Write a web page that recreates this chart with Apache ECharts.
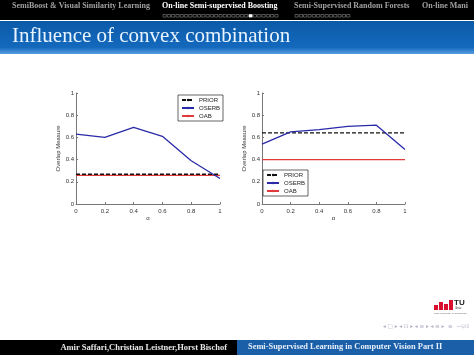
<!DOCTYPE html>
<html><head><meta charset="utf-8">
<script src="https://cdn.jsdelivr.net/npm/echarts@6/dist/echarts.min.js"></script>
<style>html,body{margin:0;padding:0;background:#fff}#c{width:474px;height:355px}</style>
</head><body><div id="c"></div>
<script>
// Data
const alphas = [0, 0.2, 0.4, 0.6, 0.8, 1];
const leftOSERB = [0.63, 0.60, 0.69, 0.61, 0.39, 0.23];
const leftPRIOR = [0.268, 0.268, 0.268, 0.268, 0.268, 0.268];
const leftOAB = [0.258, 0.258, 0.258, 0.258, 0.258, 0.258];
const rightOSERB = [0.54, 0.65, 0.67, 0.70, 0.71, 0.49];
const rightPRIOR = [0.64, 0.64, 0.64, 0.64, 0.64, 0.64];
const rightOAB = [0.40, 0.40, 0.40, 0.40, 0.40, 0.40];
const xTicks = ['0', '0.2', '0.4', '0.6', '0.8', '1'];
const yTicks = ['0', '0.2', '0.4', '0.6', '0.8', '1'];
const navItems = ['SemiBoost & Visual Similarity Learning', 'On-line Semi-supervised Boosting', 'Semi-Supervised Random Forests', 'On-line Mani'];
const title = 'Influence of convex combination';
const footLeft = 'Amir Saffari,Christian Leistner,Horst Bischof';
const footRight = 'Semi-Supervised Learning in Computer Vision Part II';

const chart = echarts.init(document.getElementById('c'), null, {renderer: 'canvas'});
const zip = (xs, ys) => xs.map((x, i) => [x, ys[i]]);
const tickFont = {fontSize: 6, color: '#333', fontFamily: 'Liberation Sans'};
function xAxis(gi) {
  return {type: 'value', gridIndex: gi, min: 0, max: 1, interval: 0.2,
    name: 'α', nameLocation: 'middle', nameGap: 11, nameTextStyle: {fontSize: 6, color: '#333'},
    axisLine: {lineStyle: {color: '#777', width: 1}}, axisTick: {inside: true, length: 2, lineStyle: {color: '#777'}},
    axisLabel: Object.assign({margin: 4, formatter: v => xTicks[Math.round(v * 5)]}, tickFont), splitLine: {show: false}};
}
function yAxis(gi) {
  return {type: 'value', gridIndex: gi, min: 0, max: 1, interval: 0.2,
    name: 'Overlap Measure', nameLocation: 'middle', nameGap: 11, nameRotate: 90, nameTextStyle: {fontSize: 6, color: '#333'},
    axisLine: {show: true, lineStyle: {color: '#777', width: 1}}, axisTick: {show: true, inside: true, length: 2, lineStyle: {color: '#777'}},
    axisLabel: Object.assign({margin: 2, formatter: v => yTicks[Math.round(v * 5)]}, tickFont), splitLine: {show: false}};
}
function line(name, gi, data, color, type, z) {
  return {name, type: 'line', xAxisIndex: gi, yAxisIndex: gi, data, symbol: 'none', silent: true, z: z,
    lineStyle: {color, width: 1.3, type}, itemStyle: {color}};
}
const legendBase = {orient: 'vertical', itemWidth: 12, itemHeight: 3, itemGap: 2, padding: [2, 3, 2, 3],
  borderColor: '#222', borderWidth: 0.7, backgroundColor: '#fff',
  textStyle: {fontSize: 6, color: '#222', fontFamily: 'Liberation Sans'}, data: ['PRIOR', 'OSERB', 'OAB'], selectedMode: false};

// nav box strips
const navG = [];
function strip(x, n, activeIdx) {
  for (let i = 0; i < n; i++) {
    navG.push({type: 'rect', shape: {x: x + i * 4.3, y: 14.5, width: 3.2, height: 2.6},
      style: {fill: i === activeIdx ? '#fff' : 'none', stroke: i === activeIdx ? '#fff' : '#888', lineWidth: 0.6}});
  }
}
strip(163, 27, 20);
strip(295, 13, -1);

chart.setOption({
  animation: false,
  backgroundColor: '#fff',
  grid: [
    {left: 76, top: 93, width: 144, height: 111},
    {left: 262, top: 93, width: 143, height: 111}
  ],
  xAxis: [xAxis(0), xAxis(1)],
  yAxis: [yAxis(0), yAxis(1)],
  legend: [
    Object.assign({left: 178, top: 95}, legendBase),
    Object.assign({left: 263, top: 170}, legendBase)
  ],
  series: [
    line('OAB', 0, zip(alphas, leftOAB), '#e03a3a', 'solid', 2),
    line('PRIOR', 0, zip(alphas, leftPRIOR), '#111', [4, 2], 3),
    line('OSERB', 0, zip(alphas, leftOSERB), '#2a2aa8', 'solid', 4),
    line('OAB', 1, zip(alphas, rightOAB), '#e03a3a', 'solid', 2),
    line('PRIOR', 1, zip(alphas, rightPRIOR), '#111', [4, 2], 3),
    line('OSERB', 1, zip(alphas, rightOSERB), '#2a2aa8', 'solid', 4)
  ],
  graphic: [
    {type: 'rect', shape: {x: 0, y: 0, width: 474, height: 20}, style: {fill: '#000'}},
    {type: 'text', x: 12, y: 2, style: {text: navItems[0], fill: '#a0a0a0', font: 'bold 8px "Liberation Serif"'}},
    {type: 'text', x: 162, y: 2, style: {text: navItems[1], fill: '#fff', font: 'bold 8px "Liberation Serif"'}},
    {type: 'text', x: 294, y: 2, style: {text: navItems[2], fill: '#a0a0a0', font: 'bold 8px "Liberation Serif"'}},
    {type: 'text', x: 422, y: 2, style: {text: navItems[3], fill: '#a0a0a0', font: 'bold 8px "Liberation Serif"'}},
    ...navG,
    {type: 'rect', shape: {x: 0, y: 21, width: 474, height: 33},
      style: {fill: new echarts.graphic.LinearGradient(0, 0, 0, 1, [
        {offset: 0, color: '#0b5aa8'}, {offset: 0.8, color: '#1469bd'}, {offset: 1, color: '#5a9ee0'}])}},
    {type: 'text', x: 12, y: 26, style: {text: title, fill: '#e8f4ff', font: '21px "Liberation Serif"'}},
    // TU Graz logo approx
    {type: 'rect', shape: {x: 434, y: 305, width: 4, height: 5}, style: {fill: '#d8102e'}},
    {type: 'rect', shape: {x: 439, y: 302, width: 4, height: 8}, style: {fill: '#d8102e'}},
    {type: 'rect', shape: {x: 444, y: 304, width: 4, height: 6}, style: {fill: '#d8102e'}},
    {type: 'rect', shape: {x: 449, y: 300, width: 4, height: 10}, style: {fill: '#d8102e'}},
    {type: 'text', x: 454, y: 299, style: {text: 'TU', fill: '#222', font: 'bold 8px "Liberation Sans"'}},
    {type: 'text', x: 455, y: 307, style: {text: 'Graz', fill: '#444', font: '3px "Liberation Sans"'}},
    {type: 'text', x: 434, y: 312, style: {text: 'Graz University of Technology', fill: '#666', font: '2.5px "Liberation Sans"'}},
    {type: 'text', x: 383, y: 324, style: {text: '◂ □ ▸ ◂ ⊡ ▸ ◂ ≡ ▸ ◂ ≡ ▸  ≡  ∽ଡ଼ଓ', fill: '#b0b0c4', font: '5.6px "DejaVu Sans"'}},
    // footer
    {type: 'rect', shape: {x: 0, y: 340, width: 237, height: 15}, style: {fill: '#000'}},
    {type: 'rect', shape: {x: 237, y: 340, width: 237, height: 15}, style: {fill: '#1a5fa8'}},
    {type: 'text', x: 227, y: 343, style: {text: footLeft, fill: '#e6e6e6', align: 'right', font: 'bold 8.5px "Liberation Serif"'}},
    {type: 'text', x: 248, y: 343, style: {text: footRight, fill: '#e6eefa', font: 'bold 8.4px "Liberation Serif"'}}
  ]
});
</script></body></html>
